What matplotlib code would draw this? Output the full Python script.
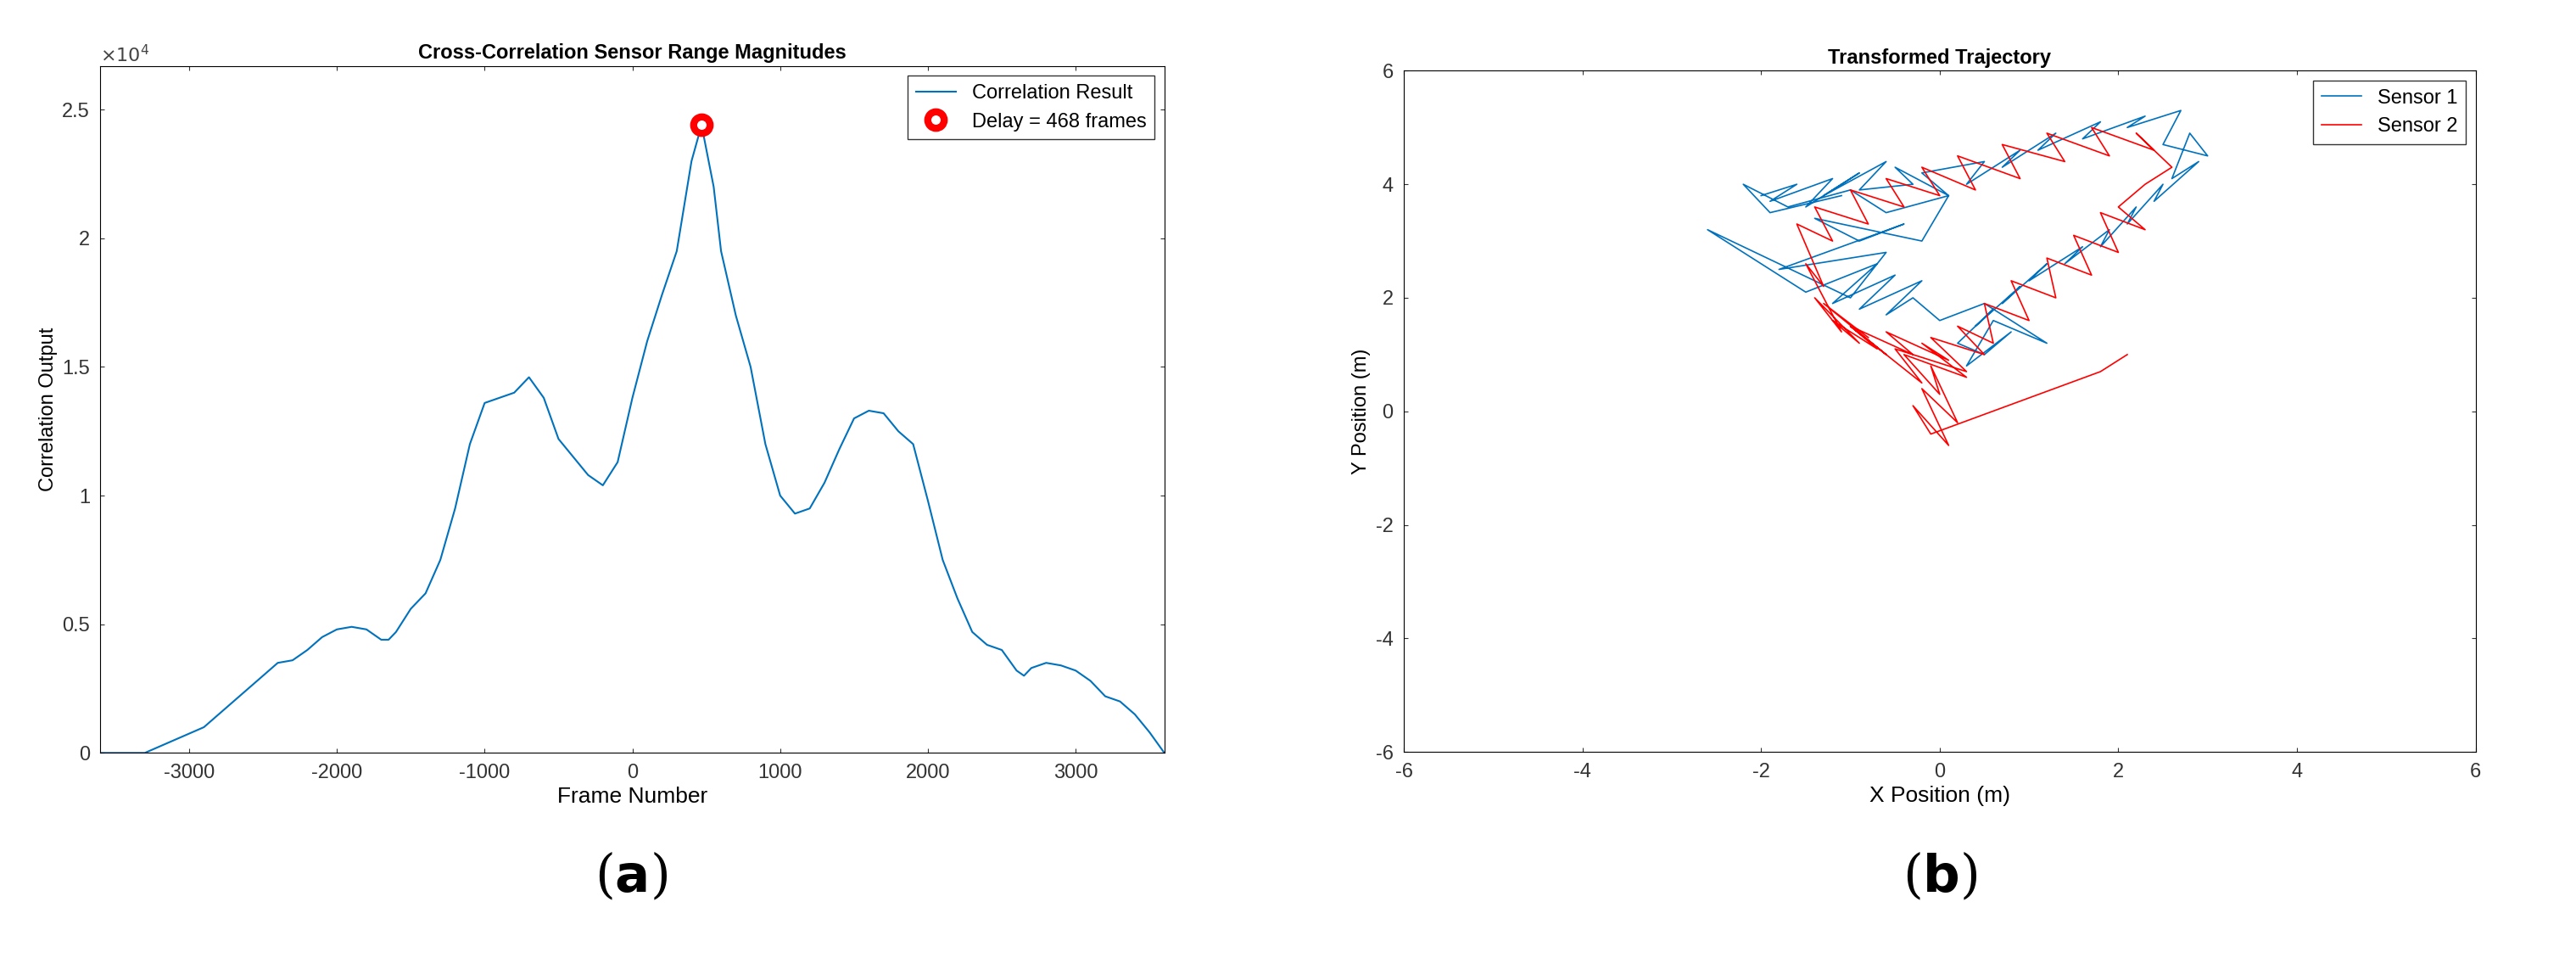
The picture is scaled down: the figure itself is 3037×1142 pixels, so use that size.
import matplotlib
matplotlib.use("Agg")
import matplotlib.pyplot as plt
import numpy as np

frames = [-3600,-3300,-3100,-2900,-2700,-2500,-2400,-2300,-2200,-2100,-2000,-1900,-1800,-1700,-1650,-1600,-1500,-1400,-1300,-1200,-1100,-1000,-900,-800,-700,-600,-500,-400,-300,-200,-100,0,100,200,300,400,468,550,600,700,800,900,1000,1100,1200,1300,1400,1500,1600,1700,1800,1900,2000,2100,2200,2300,2400,2500,2600,2650,2700,2800,2900,3000,3100,3200,3300,3400,3500,3600]
corr = [0,0,0.05,0.1,0.2,0.3,0.35,0.36,0.4,0.45,0.48,0.49,0.48,0.44,0.44,0.47,0.56,0.62,0.75,0.95,1.2,1.36,1.38,1.4,1.46,1.38,1.22,1.15,1.08,1.04,1.13,1.38,1.6,1.78,1.95,2.3,2.44,2.2,1.95,1.7,1.5,1.2,1.0,0.93,0.95,1.05,1.18,1.3,1.33,1.32,1.25,1.2,0.98,0.75,0.6,0.47,0.42,0.4,0.32,0.3,0.33,0.35,0.34,0.32,0.28,0.22,0.2,0.15,0.08,0]
peak_frame = 468
peak_val = 2.44

s1x = [-2.0,-1.6,-1.9,-1.2,-1.5,-0.9,-1.3,-0.6,-0.9,-0.3,-0.5,0.1,-0.2,0.5,0.3,0.9,0.7,1.3,1.1,1.8,1.6,2.3,2.1,2.7,2.5,3.0,2.8,2.6,2.9,2.4,2.5,2.1,2.2,1.8,1.9,1.4,1.6,1.0,1.2,0.7,0.9,0.4,0.6,0.2,0.5,0.8,0.3,0.6,1.2,0.5,0.0,-0.3,-0.6,-0.2,-0.9,-0.5,-1.2,-0.7,-1.5,-2.6,-1.0,-0.6,-1.8,-0.4,-0.9,-1.4,-0.2,0.1,-0.6,-1.0,-1.7,-2.2,-1.9,-1.1]
s1y = [3.8,4.0,3.7,4.1,3.6,4.2,3.8,4.4,3.9,4.0,4.3,3.8,4.2,4.4,4.0,4.6,4.3,4.9,4.6,5.1,4.8,5.2,5.0,5.3,4.7,4.5,4.9,4.1,4.4,3.7,4.0,3.3,3.6,2.9,3.2,2.6,2.9,2.3,2.6,1.9,2.2,1.5,1.8,1.2,1.0,1.4,0.8,1.6,1.2,1.9,1.6,2.0,1.7,2.3,1.8,2.4,1.9,2.6,2.1,3.2,2.0,2.8,2.5,3.3,3.0,3.4,3.0,3.8,3.5,3.9,3.6,4.0,3.5,3.8]
s2x = [2.1,1.8,-0.1,-0.3,0.1,-0.2,0.2,-0.1,0.0,-0.4,0.3,-0.2,0.1,-0.6,-0.3,-1.0,-0.7,-1.2,-0.9,-1.4,-1.1,-1.5,-1.3,-1.6,-1.2,-1.4,-0.8,-1.0,-0.4,-0.6,0.0,-0.2,0.4,0.2,0.9,0.7,1.4,1.2,1.9,1.7,2.4,2.2,2.6,2.3,2.0,2.3,1.8,2.0,1.5,1.7,1.2,1.3,0.8,1.0,0.5,0.6,0.2,0.5,-0.1,0.3,-0.5,-0.2,-1.0,-0.6,-1.3,-0.8]
s2y = [1.0,0.7,-0.4,0.1,-0.6,0.4,-0.2,0.8,0.3,1.0,0.6,1.2,0.9,1.4,1.0,1.5,1.1,1.6,1.2,2.0,1.4,2.6,2.2,3.3,3.0,3.6,3.3,3.9,3.6,4.1,3.8,4.3,3.9,4.5,4.1,4.7,4.4,4.9,4.5,5.0,4.6,4.9,4.3,4.0,3.6,3.2,3.5,2.8,3.1,2.4,2.7,2.0,2.3,1.6,1.9,1.2,1.5,1.0,1.3,0.7,1.1,0.5,1.5,1.0,1.9,1.3]

plt.rcParams['font.family'] = ['Liberation Sans', 'DejaVu Sans']
plt.rcParams['axes.unicode_minus'] = False
fig = plt.figure(figsize=(30.37, 11.42), dpi=100)
blue = '#0072BD'

ax1 = fig.add_axes([0.039, 0.223, 0.413, 0.709])
ax1.plot(frames, np.array(corr)*1e4, color=blue, lw=1.5, label='Correlation Result')
ax1.plot([peak_frame], [peak_val*1e4], 'o', mfc='white', mec='red', mew=6, ms=14, label='Delay = 468 frames')
ax1.set_xlim(-3600, 3600)
ax1.set_ylim(0, 2.67e4)
ax1.set_xticks([-3000,-2000,-1000,0,1000,2000,3000])
ax1.set_yticks([0,0.5e4,1e4,1.5e4,2e4,2.5e4])
ax1.set_yticklabels(['0','0.5','1','1.5','2','2.5'])
ax1.text(0, 1.005, r'$\times10^4$', transform=ax1.transAxes, fontsize=16, color='#444444')
ax1.set_xlabel('Frame Number', fontsize=19)
ax1.set_ylabel('Correlation Output', fontsize=17)
ax1.set_title('Cross-Correlation Sensor Range Magnitudes', fontsize=17, fontweight='bold')
ax1.legend(loc='upper right', fontsize=17, fancybox=False, edgecolor='black')

ax2 = fig.add_axes([0.545, 0.224, 0.416, 0.703])
ax2.plot(s1x, s1y, color=blue, lw=1.2, label='Sensor 1')
ax2.plot(s2x, s2y, color='red', lw=1.2, label='Sensor 2')
ax2.set_xlim(-6, 6); ax2.set_ylim(-6, 6)
ax2.set_xlabel('X Position (m)', fontsize=19)
ax2.set_ylabel('Y Position (m)', fontsize=17)
ax2.set_title('Transformed Trajectory', fontsize=17, fontweight='bold')
ax2.legend(loc='upper right', fontsize=17, fancybox=False, edgecolor='black')

for ax in (ax1, ax2):
    ax.tick_params(labelsize=17, direction='in', top=True, right=True, colors='#333333', pad=9)

fig.text(0.245, 0.095, r'($\mathbf{a}$)', fontsize=44, family='DejaVu Serif', ha='center', va='center')
fig.text(0.753, 0.095, r'($\mathbf{b}$)', fontsize=44, family='DejaVu Serif', ha='center', va='center')
fig.savefig('out.png', dpi=100)
